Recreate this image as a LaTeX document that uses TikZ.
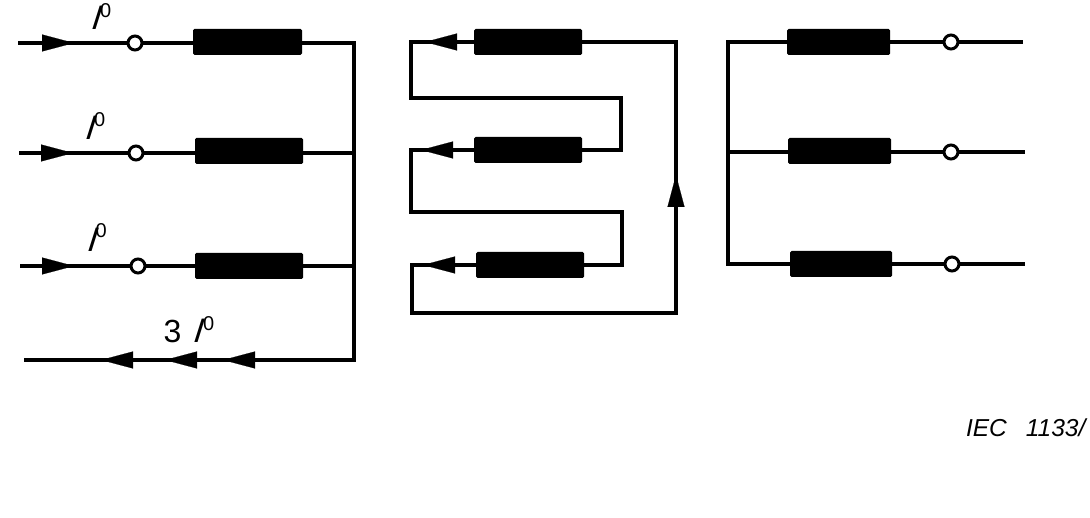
\documentclass[tikz,border=0pt]{standalone}
\usepackage{fontspec}
\setmainfont{Liberation Sans}
\usetikzlibrary{arrows.meta}
\tikzset{
  wire/.style={line width=4pt,line join=miter,line cap=butt},
  res/.style={fill=black,draw=none,rounded corners=1.5pt,inner sep=0pt,minimum height=26pt},
  term/.style={circle,draw=black,fill=white,line width=3pt,inner sep=0pt,outer sep=0pt,minimum size=14pt},
  flow/.style={-{Triangle[length=32pt,width=17pt]},line width=0.1pt},
  lab/.style={anchor=base west,inner sep=0pt,outer sep=0pt},
  current/.style={lab,xslant=0.12,transform shape,font=\fontsize{34}{34}\selectfont\itshape},
  zero/.style={lab,font=\fontsize{20}{20}\selectfont}
}
\begin{document}
\begin{tikzpicture}[x=1pt,y=-1pt]
\clip (0,0) rectangle (1090,518);
% left column
\node[res,minimum width=109pt] (r1) at (247.5,42) {};
\node[res,minimum width=108pt] (r2) at (249,151) {};
\node[res,minimum width=108pt] (r3) at (249,266) {};
\node[term] (c1) at (135,43) {};
\node[term] (c2) at (136,153) {};
\node[term] (c3) at (138,266) {};
\coordinate (s1) at (18,43);
\coordinate (s2) at (19,153);
\coordinate (s3) at (20,266);
\coordinate (j1) at (354,43);
\coordinate (j2) at (354,153);
\coordinate (j3) at (354,266);
\coordinate (jb) at (354,360);
\coordinate (s4) at (24,360);
\draw[wire] (s1) -- (c1);
\draw[wire] (c1) -- (c1 -| r1.west);
\draw[wire] (s2) -- (c2);
\draw[wire] (c2) -- (c2 -| r2.west);
\draw[wire] (s3) -- (c3);
\draw[wire] (c3) -- (r3);
\draw[wire] (j1 -| r1.east) -- (j1) -- (j2) -- (j3) -- (jb) -- (s4);
\draw[wire] (j2 -| r2.east) -- (j2);
\draw[wire] (r3) -- (j3);
\coordinate (a1b) at (43,43);  \coordinate (a1t) at (74,43);
\coordinate (a2b) at (42,153); \coordinate (a2t) at (73,153);
\coordinate (a3b) at (43,266);   \coordinate (a3t) at (74,266);
\coordinate (a4b) at (135,360);  \coordinate (a4t) at (101,360);
\coordinate (a5b) at (195,360);  \coordinate (a5t) at (165,360);
\coordinate (a6b) at (254,360);  \coordinate (a6t) at (223,360);
\foreach \p in {a1,a2,a3,a4,a5,a6} \draw[flow] (\p b) -- (\p t);
\node[current] (l1) at (91,29.5) {I};
\node[zero] (z1) at (100,18) {0};
\node[current] (l2) at (85,139.5) {I};
\node[zero] (z2) at (94,127) {0};
\node[current] (l3) at (87,252) {I};
\node[zero] (z3) at (95.5,238) {0};
\node[lab,font=\fontsize{32}{32}\selectfont] (l4n) at (163.5,343) {3};
\node[current] (l4) at (193,343) {I};
\node[zero] (z4) at (203,331) {0};
% middle column
\node[res,minimum width=108pt] (m1) at (528,42) {};
\node[res,minimum width=108pt] (m2) at (528,150) {};
\node[res,minimum width=108pt] (m3) at (530,265) {};
\coordinate (n1) at (676,42);
\coordinate (n2) at (676,313);
\coordinate (n3) at (412,313);
\coordinate (n4) at (412,265);
\draw[wire] (m1) -- (n1) -- (n2) -- (n3) -- (n4) -- (m3);
\coordinate (p1) at (621,150);
\coordinate (p2) at (621,98);
\coordinate (p3) at (411,98);
\coordinate (p4) at (411,42);
\draw[wire] (m2) -- (p1) -- (p2) -- (p3) -- (p4) -- (m1);
\coordinate (q1) at (622,265);
\coordinate (q2) at (622,212);
\coordinate (q3) at (411,212);
\coordinate (q4) at (411,150);
\draw[wire] (m3) -- (q1) -- (q2) -- (q3) -- (q4) -- (m2);
\coordinate (b1b) at (462,42);  \coordinate (b1t) at (425,42);
\coordinate (b2b) at (457,150); \coordinate (b2t) at (421,150);
\coordinate (b3b) at (457,265); \coordinate (b3t) at (423,265);
\coordinate (b4b) at (676,208); \coordinate (b4t) at (676,175);
\foreach \p in {b1,b2,b3,b4} \draw[flow] (\p b) -- (\p t);
% right column
\node[res,minimum width=103pt] (t1) at (838.5,42) {};
\node[res,minimum width=103pt] (t2) at (839.5,151) {};
\node[res,minimum width=102pt] (t3) at (841,264) {};
\node[term] (d1) at (951,42) {};
\node[term] (d2) at (951,152) {};
\node[term] (d3) at (952,264) {};
\coordinate (e1) at (1023,42);
\coordinate (e2) at (1025,152);
\coordinate (e3) at (1025,264);
\coordinate (k1) at (728,42);
\coordinate (k2) at (728,152);
\coordinate (k3) at (728,264);
\draw[wire] (t1) -- (k1) -- (k2) -- (k3) -- (t3);
\draw[wire] (k2) -- (k2 -| t2.west);
\draw[wire] (t1) -- (d1);
\draw[wire] (d1) -- (e1);
\draw[wire] (d2 -| t2.east) -- (d2);
\draw[wire] (d2) -- (e2);
\draw[wire] (t3) -- (d3);
\draw[wire] (d3) -- (e3);
\node[lab] (iec) at (966,436) {\fontsize{24.5}{25}\selectfont\itshape IEC\hspace*{19pt}1133/};
\end{tikzpicture}
\end{document}
